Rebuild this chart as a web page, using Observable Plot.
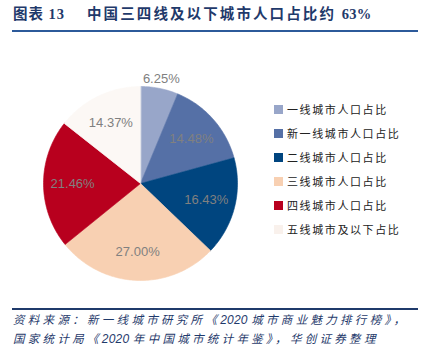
<!DOCTYPE html>
<html><head><meta charset="utf-8">
<script src="https://cdn.jsdelivr.net/npm/d3@7"></script>
<script src="https://cdn.jsdelivr.net/npm/@observablehq/plot@0.6"></script>
<style>
body{margin:0;width:433px;height:354px;position:relative;background:#fff;overflow:hidden}
#title{position:absolute;left:13px;top:5px;white-space:nowrap;font-weight:bold;font-size:14.5px;line-height:18px;color:#1f3a6b;font-family:"Liberation Serif","Noto Sans CJK SC",serif}
#title .a{letter-spacing:1px}
#title .b{position:absolute;left:74px;letter-spacing:2.1px}
#title .n{letter-spacing:0.3px}
#tline{position:absolute;left:12px;width:406px;top:29.5px;height:2px;background:#2c5a9a}
#chart{position:absolute;left:0;top:36px}
#legend{position:absolute;left:274px;top:104px;font-family:"Noto Sans CJK SC",sans-serif;font-size:11px;color:#222;letter-spacing:1.6px}
#legend .row{height:24.1px;display:flex;align-items:flex-start;white-space:nowrap}
#legend .sw{width:9px;height:9px;margin-right:4px;margin-top:1px}
#legend .t{line-height:11px;margin-top:0px}
#cline{position:absolute;left:12px;width:406px;top:308px;height:1.5px;background:#1f3a6b}
#caption{position:absolute;left:13px;top:311px;font-family:"Liberation Serif","Noto Sans CJK SC",serif;font-style:italic;font-size:11.5px;line-height:18.5px;color:#1f3a6b;letter-spacing:3.3px;white-space:nowrap}
#caption .n{letter-spacing:0.2px;font-family:"Liberation Sans",sans-serif;font-size:12px}
</style></head><body>
<div id="title"><span class="a">图表 13</span><span class="b">中国三四线及以下城市人口占比约 <span class="n">63%</span></span></div>
<div id="tline"></div>
<div id="chart"></div>
<div id="legend"></div>
<div id="cline"></div>
<div id="caption">资料来源：新一线城市研究所《<span class="n">2020 </span>城市商业魅力排行榜》，<br>国家统计局《<span class="n">2020 </span>年中国城市统计年鉴》，华创证券整理</div>
<script>
const categories = ["一线城市人口占比","新一线城市人口占比","二线城市人口占比","三线城市人口占比","四线城市人口占比","五线城市及以下占比"];
const values = [6.25, 14.48, 16.43, 27.00, 21.46, 14.37];
const labels = ["6.25%","14.48%","16.43%","27.00%","21.46%","14.37%"];
const colors = ["#98a6c9","#5570a6","#00457f","#f8d0b2","#b8001e","#fcf8f5"];

const total = d3.sum(values);
// build slice polygons in unit-circle coordinates (clockwise from 12 o'clock)
const polys = [];
const labelPts = [];
let acc = 0;
categories.forEach((c, i) => {
  const a0 = acc / total * 2 * Math.PI;
  acc += values[i];
  const a1 = acc / total * 2 * Math.PI;
  polys.push({cat: c, x: 0, y: 0});
  const n = Math.max(2, Math.ceil((a1 - a0) / (Math.PI / 180)));
  for (let k = 0; k <= n; k++) {
    const a = a0 + (a1 - a0) * k / n;
    polys.push({cat: c, x: Math.sin(a), y: Math.cos(a)});
  }
  const am = (a0 + a1) / 2;
  const r = values[i] / total < 0.08 ? 1.1 : 0.7;
  labelPts.push({text: labels[i], x: r * Math.sin(am), y: r * Math.cos(am)});
});

const R = 97, cx = 140, cy = 147, W = 433, H = 264;
const chart = Plot.plot({
  width: W, height: H, margin: 0,
  x: {domain: [-cx / R, (W - cx) / R], axis: null},
  y: {domain: [(cy - H) / R, cy / R], axis: null},
  color: {type: "ordinal", domain: categories, range: colors},
  marks: [
    Plot.line(polys, {x: "x", y: "y", z: "cat", fill: "cat", stroke: "cat", strokeWidth: 0.6, curve: "linear-closed"}),
    Plot.text(labelPts, {x: "x", y: "y", text: "text", fill: "#808080", fontSize: 13, fontFamily: "Liberation Sans, Arial, sans-serif"})
  ]
});
document.getElementById("chart").append(chart);

const lg = document.getElementById("legend");
categories.forEach((c, i) => {
  const row = document.createElement("div"); row.className = "row";
  const sw = document.createElement("div"); sw.className = "sw"; sw.style.background = colors[i];
  if (i === 5) sw.style.background = "#f9f1ec";
  const t = document.createElement("div"); t.className = "t"; t.textContent = c;
  row.append(sw, t); lg.append(row);
});
</script>
</body></html>
